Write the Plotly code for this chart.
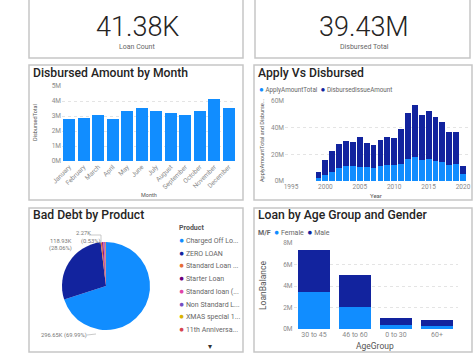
import plotly.graph_objects as go

W, H = 474, 355
def fx(x): return x / W
def fy(y): return 1 - y / H

# ---------------- data ----------------
kpi_values = ["41.38K", "39.43M"]
kpi_labels = ["Loan Count", "Disbursed Total"]

months = ["January", "February", "March", "April", "May", "June", "July",
          "August", "September", "October", "November", "December"]
disbursed_month_m = [2.78, 2.89, 3.07, 2.80, 3.36, 3.53, 3.36, 3.22, 3.04, 3.36, 4.11, 3.53]

years = list(range(1999, 2021))
apply_total_m = [2.25, 4.25, 7.0, 9.5, 11.0, 11.25, 10.25, 10.75, 9.75, 11.5, 11.75,
                 12.0, 13.0, 16.5, 18.0, 15.5, 16.75, 14.75, 14.0, 11.75, 12.5, 5.0]
disbursed_issue_m = [4.5, 11.25, 15.5, 18.5, 19.25, 17.75, 22.75, 17.75, 17.5, 19.0, 21.5,
                     20.0, 26.0, 34.25, 38.75, 34.25, 35.75, 33.5, 30.5, 25.0, 24.0, 6.0]

products = ["Charged Off Lo...", "ZERO LOAN", "Standard Loan ...", "Starter Loan",
            "Standard loan (...", "Non Standard L...", "XMAS special 1...", "11th Anniversa..."]
bad_debt_k = [296.65, 118.93, 2.266, 1.8, 1.5, 1.2, 0.6, 0.904]

age_groups = ["30 to 45", "46 to 60", "0 to 30", "60+"]
female_m = [3.42, 2.03, 0.40, 0.31]
male_m = [3.90, 2.99, 0.62, 0.49]

palette = ["#118DFF", "#12239E", "#E66C37", "#6B007B", "#E044A7", "#744EC2", "#D9B300", "#D64550"]

FONT = "Roboto, 'Segoe UI', sans-serif"
TITLE_C = "#252423"
TICK_C = "#8a8a8a"
AX_C = "#555555"

fig = go.Figure()

# ---- Disbursed by month ----
fig.add_trace(go.Bar(x=months, y=[v * 1e6 for v in disbursed_month_m], marker_color=palette[0],
                     width=0.84, xaxis="x", yaxis="y", showlegend=False))

# ---- Apply vs Disbursed ----
fig.add_trace(go.Bar(x=years, y=[v * 1e6 for v in apply_total_m], marker_color=palette[0],
                     width=0.85, xaxis="x2", yaxis="y2", name="ApplyAmountTotal", showlegend=False))
fig.add_trace(go.Bar(x=years, y=[v * 1e6 for v in disbursed_issue_m], marker_color=palette[1],
                     width=0.85, xaxis="x2", yaxis="y2", name="DisbursedIssueAmount", showlegend=False))

# ---- Age group ----
fig.add_trace(go.Bar(x=age_groups, y=[v * 1e6 for v in female_m], marker_color=palette[0],
                     width=0.76, xaxis="x3", yaxis="y3", name="Female", showlegend=False))
fig.add_trace(go.Bar(x=age_groups, y=[v * 1e6 for v in male_m], marker_color=palette[1],
                     width=0.76, xaxis="x3", yaxis="y3", name="Male", showlegend=False))

# ---- Pie ----
fig.add_trace(go.Pie(labels=products, values=bad_debt_k, marker=dict(colors=palette, line=dict(width=0)),
                     sort=False, direction="clockwise", rotation=0, textinfo="none",
                     domain=dict(x=[fx(62), fx(150)], y=[fy(330), fy(242)]), showlegend=False))

def mticks(mx, step):
    vals = list(range(0, mx + 1, step))
    return [v * 1e6 for v in vals], [f"{v}M" for v in vals]

tv1, tt1 = mticks(5, 1)
tv2, tt2 = mticks(60, 20)
tv3, tt3 = mticks(8, 2)

tickfont = dict(family=FONT, size=6.5, color=TICK_C)
grid = dict(showgrid=True, gridcolor="#e4e4e4", griddash="dot", gridwidth=1, zeroline=False,
            automargin=False, showline=False, ticks="")
xcommon = dict(showgrid=False, ticks="", showline=False, automargin=False, zeroline=False)

fig.update_layout(
    template="none",
    width=W, height=H, margin=dict(l=0, r=0, t=0, b=0, autoexpand=False),
    paper_bgcolor="white", plot_bgcolor="white", barmode="stack",
    font=dict(family=FONT),
    xaxis=dict(domain=[fx(62), fx(236)], tickangle=-45, tickfont=tickfont, **xcommon),
    yaxis=dict(domain=[fy(161), fy(86)], range=[0, 5e6], tickvals=tv1, ticktext=tt1,
               tickfont=tickfont, **grid),
    xaxis2=dict(domain=[fx(285), fx(469)], range=[1994.13, 2020.87], tickvals=[1995, 2000, 2005, 2010, 2015, 2020],
                tickfont=tickfont, anchor="y2", **xcommon),
    yaxis2=dict(domain=[fy(181), fy(101)], range=[0, 60e6], tickvals=tv2, ticktext=tt2,
                tickfont=tickfont, anchor="x2", **grid),
    xaxis3=dict(domain=[fx(293.5), fx(457.5)], tickfont=dict(family=FONT, size=7, color=TICK_C),
                anchor="y3", **xcommon),
    yaxis3=dict(domain=[fy(329), fy(243)], range=[0, 8e6], tickvals=tv3, ticktext=tt3,
                tickfont=tickfont, anchor="x3", **grid),
)

# ---- panel borders ----
panels = [(29, -2, 243, 58), (255, -2, 470, 58), (29, 65, 243, 200), (254, 65, 472, 200),
          (29, 208, 243, 352), (254, 208, 472, 352)]
for (x0, y0, x1, y1) in panels:
    fig.add_shape(type="rect", xref="paper", yref="paper", x0=fx(x0), x1=fx(x1), y0=fy(y1), y1=fy(y0),
                  line=dict(color="#c6c6c6", width=1.5), fillcolor="rgba(0,0,0,0)", layer="below")

ann = []
def A(x, y, text, size, color, xanchor="left", angle=0, weight=None, **kw):
    f = dict(family=FONT, size=size, color=color)
    if weight:
        f["weight"] = weight
    ann.append(dict(x=fx(x), y=fy(y), xref="paper", yref="paper", text=text, showarrow=False,
                    xanchor=xanchor, yanchor="middle", textangle=angle, font=f, **kw))

# KPI cards
for cx, val, lab in zip([137, 364], kpi_values, kpi_labels):
    A(cx, 27, val, 27, TITLE_C, xanchor="center", weight=300)
    A(cx, 47, lab, 7, "#666666", xanchor="center")

# titles
A(31, 73, "Disbursed Amount by Month", 12.2, TITLE_C, weight=500)
A(256, 73, "Apply Vs Disbursed", 12.2, TITLE_C, weight=500)
A(31, 215, "Bad Debt by Product", 12.2, TITLE_C, weight=500)
A(256, 215, "Loan by Age Group and Gender", 12.2, TITLE_C, weight=500)

# axis titles
A(35, 123, "DisbursedTotal", 5.5, AX_C, xanchor="center", angle=-90)
A(149, 195, "Month", 5.5, AX_C, xanchor="center")
A(262, 141, "ApplyAmountTotal and Disburse...", 5.5, AX_C, xanchor="center", angle=-90)
A(376, 195, "Year", 6, AX_C, xanchor="center")
A(263, 286, "LoanBalance", 8.5, AX_C, xanchor="center", angle=-90)
A(375, 346, "AgeGroup", 8.5, AX_C, xanchor="center")

# legend helpers
def dot(c, name, ds=8.5):
    return f"<span style='color:{c};font-size:{ds}px'>●</span> {name}"
A(257, 89, dot(palette[0], "ApplyAmountTotal", 8) + "  " + dot(palette[1], "DisbursedIssueAmount", 8), 6.3, "#666666")
A(256, 232, "<b>M/F</b>  " + dot(palette[0], "Female") + "  " + dot(palette[1], "Male"), 7, "#666666")

A(177, 228, "<b>Product</b>", 7, "#555555")
for i, (p, c) in enumerate(zip(products, palette)):
    A(177, 240 + i * 12.7, dot(c, p), 7, "#666666")
A(210, 346, "▾", 8, "#333333", xanchor="center")

# pie labels from data
total = sum(bad_debt_k)
def klab(i):
    return f"{bad_debt_k[i]:.2f}K", f"({bad_debt_k[i] / total * 100:.2f}%)"
l0 = klab(0); l1 = klab(1); l2 = klab(2)
A(83, 233, l2[0], 5.8, "#777777", xanchor="center")
A(91, 241, l2[1], 5.8, "#777777", xanchor="center")
A(61, 241, l1[0], 5.8, "#777777", xanchor="center")
A(60, 249, l1[1], 5.8, "#777777", xanchor="center")
A(64, 335, f"{l0[0]} {l0[1]}", 5.8, "#777777", xanchor="center")

fig.update_layout(annotations=ann)

# leader lines
for (xs, ys) in [([89, 101, 101], [235, 235, 243]), ([87, 96], [335, 334])]:
    fig.add_shape(type="path", xref="paper", yref="paper",
                  path="M " + " L ".join(f"{fx(a)},{fy(b)}" for a, b in zip(xs, ys)),
                  line=dict(color="#bbbbbb", width=0.8))

fig.write_html("out.html", config={"displayModeBar": False},
               post_script="document.body.style.margin='0';document.body.style.overflow='hidden';")
